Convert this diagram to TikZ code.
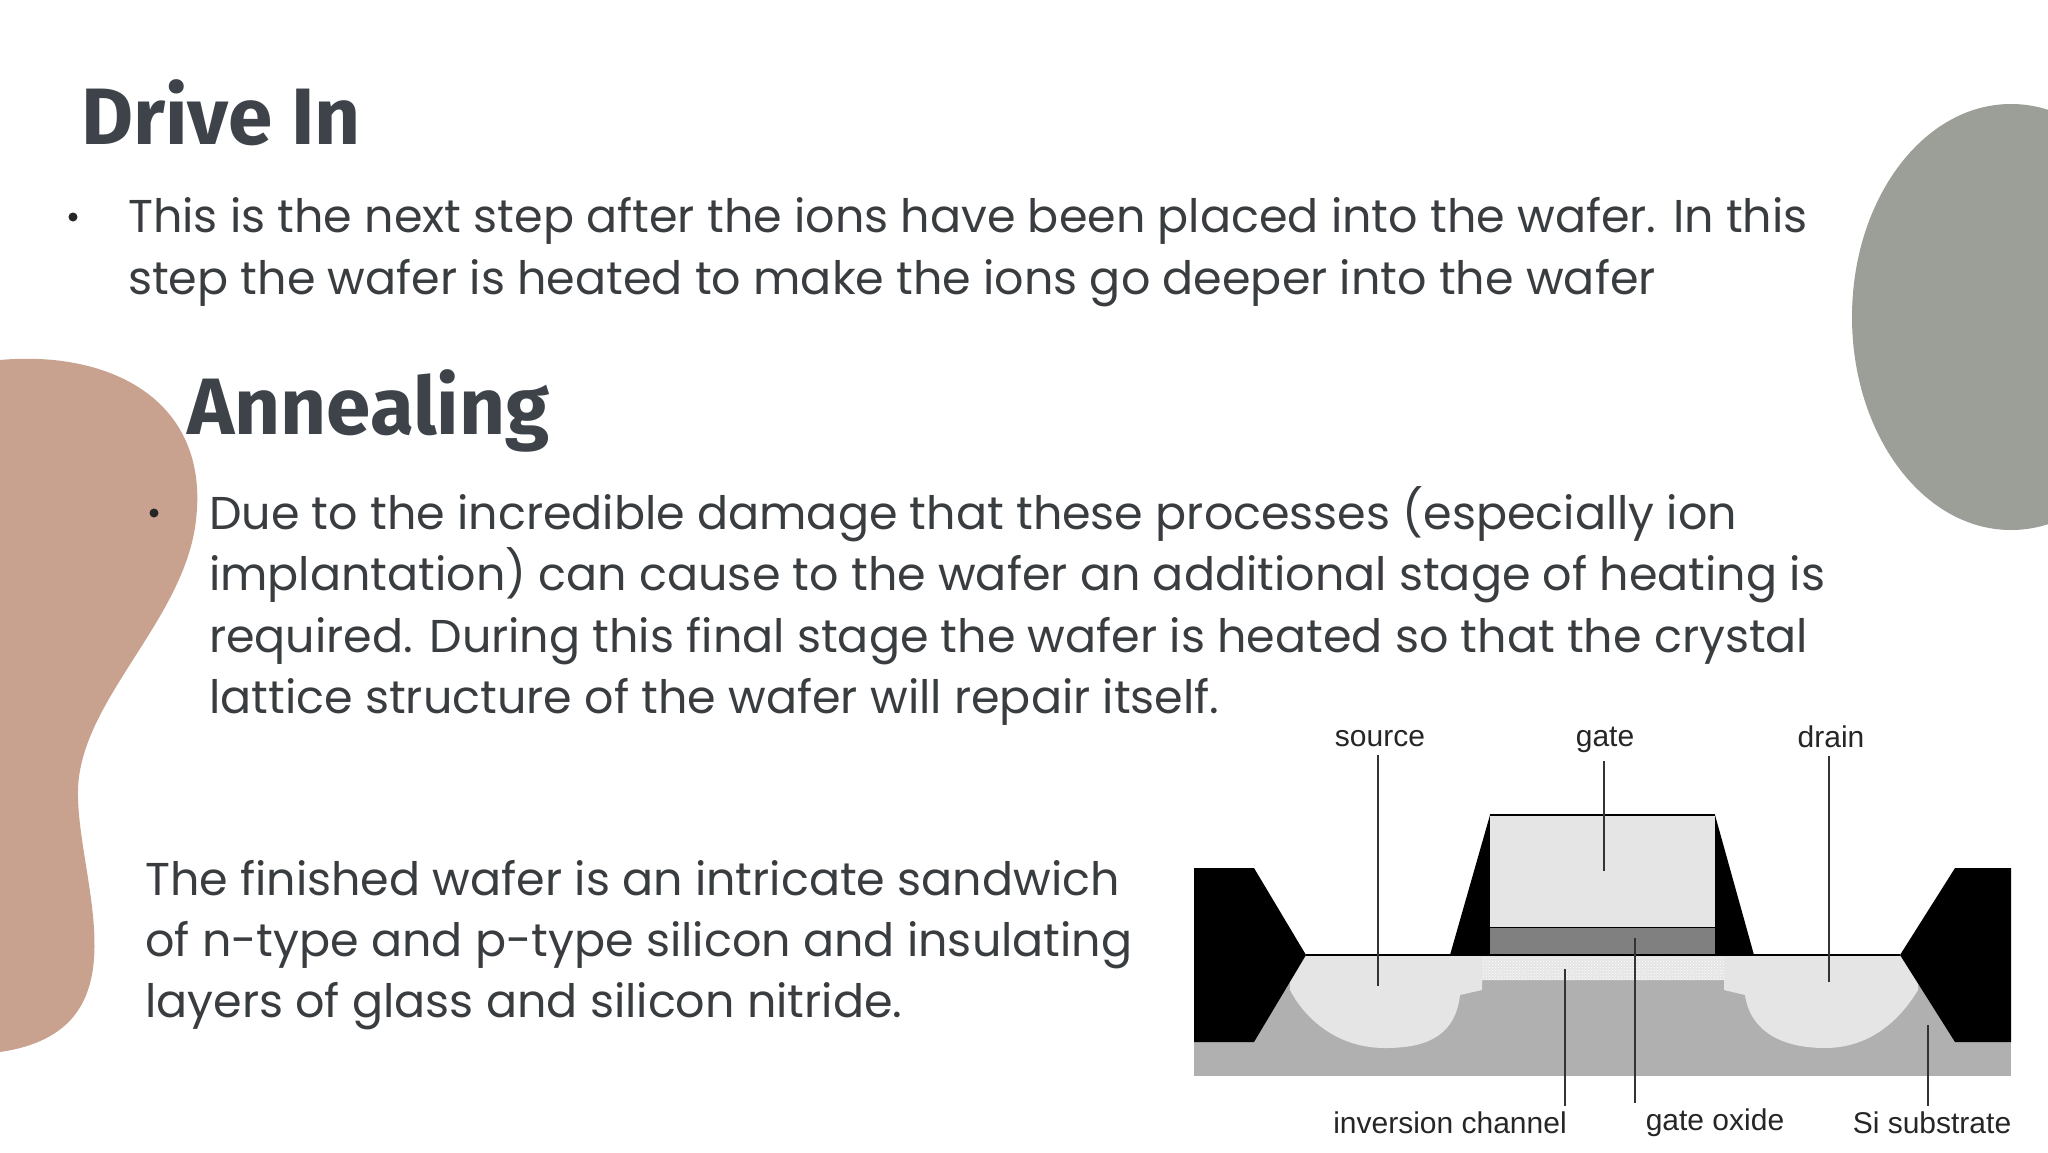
\documentclass[tikz,border=0pt]{standalone}
\usepackage{fontspec}
\setmainfont{Poppins}
\newfontfamily\titlefont{Fira Sans}
\newfontfamily\labfont{Liberation Sans}
\usetikzlibrary{patterns}
\definecolor{ink}{HTML}{3A3D40}
\definecolor{ttl}{HTML}{3D4349}
\definecolor{blobgray}{HTML}{9C9E98}
\definecolor{blobbrown}{HTML}{C9A28F}
\tikzset{
 ttlsty/.style={anchor=base west,inner sep=0,text=ttl,font=\titlefont\bfseries\fontsize{80}{90}\selectfont},
 bodysty/.style={anchor=base west,inner sep=0,text=ink,font=\fontsize{46}{60}\selectfont},
 bulsty/.style={circle,fill=black!85,inner sep=0,minimum size=9pt},
 lab/.style={inner sep=0,text=black!85,font=\labfont\fontsize{30}{34}\selectfont},
 leader/.style={draw=black!80,line width=1.2pt}
}
\begin{document}
\begin{tikzpicture}[x=1pt,y=-1pt]
\useasboundingbox (0,0) rectangle (2048,1152);
\fill[white] (0,0) rectangle (2048,1152);
% blobs
\fill[blobgray] (2011,317) ellipse[x radius=159,y radius=213];
\fill[blobbrown] (0,360) .. controls (110,350) and (210,400) .. (196,520)
  .. controls (185,620) and (80,700) .. (78,790)
  .. controls (76,880) and (150,1030) .. (0,1052) -- cycle;
% text
\node[ttlsty] (t1) at (81,144) {Drive In};
\node[bulsty] (b1) at (73,217) {};
\node[bodysty] (p1a) at (128,232) {This is the next step after the ions have been placed into the wafer. In this};
\node[bodysty] (p1b) at (128,294) {step the wafer is heated to make the ions go deeper into the wafer};
\node[ttlsty] (t2) at (187,434) {Annealing};
\node[bulsty] (b2) at (154,513) {};
\node[bodysty] (p2a) at (209,529) {Due to the incredible damage that these processes (especially ion};
\node[bodysty] (p2b) at (209,590) {implantation) can cause to the wafer an additional stage of heating is};
\node[bodysty] (p2c) at (209,652) {required. During this final stage the wafer is heated so that the crystal};
\node[bodysty] (p2d) at (209,713) {lattice structure of the wafer will repair itself.};
\node[bodysty] (p3a) at (145,895) {The finished wafer is an intricate sandwich};
\node[bodysty] (p3b) at (145,956) {of n-type and p-type silicon and insulating};
\node[bodysty] (p3c) at (145,1017) {layers of glass and silicon nitride.};
% transistor
\fill[black!31] (1194,955) rectangle (2011,1076);
\fill[black!10] (1290,955) -- (1482,955) -- (1482,990) -- (1460,995)
  .. controls (1455,1040) and (1420,1048) .. (1385,1048)
  .. controls (1330,1048) and (1300,1010) .. (1290,990) -- cycle;
\fill[black!10] (1724,955) -- (1918,955) -- (1918,990)
  .. controls (1900,1020) and (1870,1048) .. (1825,1048)
  .. controls (1780,1048) and (1750,1030) .. (1745,995) -- (1724,990) -- cycle;
\fill[black!10] (1482,955) rectangle (1724,980);
\fill[pattern=crosshatch dots, pattern color=white] (1482,955) rectangle (1724,980);
\fill[black] (1194,868) -- (1254,868) -- (1306,955) -- (1254,1042) -- (1194,1042) -- cycle;
\fill[black] (2011,868) -- (1955,868) -- (1900,955) -- (1955,1042) -- (2011,1042) -- cycle;
\fill[black] (1490,815) -- (1450,955) -- (1490,955) -- cycle;
\fill[black] (1715,815) -- (1754,955) -- (1715,955) -- cycle;
\fill[black!50] (1490,927) rectangle (1715,955);
\fill[black!10] (1490,815) rectangle (1715,927);
\draw[line width=1.4pt] (1490,815) -- (1715,815);
\draw[line width=1pt] (1490,927) -- (1715,927);
\draw[line width=1.4pt] (1306,955) -- (1900,955);
% labels
\node[lab] (ls) at (1380,739) {source};
\node[lab] (lg) at (1605,740) {gate};
\node[lab] (ld) at (1831,737) {drain};
\node[lab] (li) at (1450,1123) {inversion channel};
\node[lab] (lo) at (1715,1123) {gate oxide};
\node[lab] (lsi) at (1932,1123) {Si substrate};
\coordinate (cs) at (1378,986);
\coordinate (cg) at (1604,871);
\coordinate (cd) at (1829,982);
\coordinate (ci) at (1565,969);
\coordinate (co) at (1635,938);
\coordinate (csi) at (1928,1025);
\draw[leader] (ls.south -| cs) ++(0,8) -- (cs);
\draw[leader] (lg.south -| cg) ++(0,8) -- (cg);
\draw[leader] (ld.south -| cd) ++(0,8) -- (cd);
\draw[leader] (li.north -| ci) ++(0,-6) -- (ci);
\draw[leader] (lo.north -| co) ++(0,-6) -- (co);
\draw[leader] (lsi.north -| csi) ++(0,-6) -- (csi);
\end{tikzpicture}
\end{document}
